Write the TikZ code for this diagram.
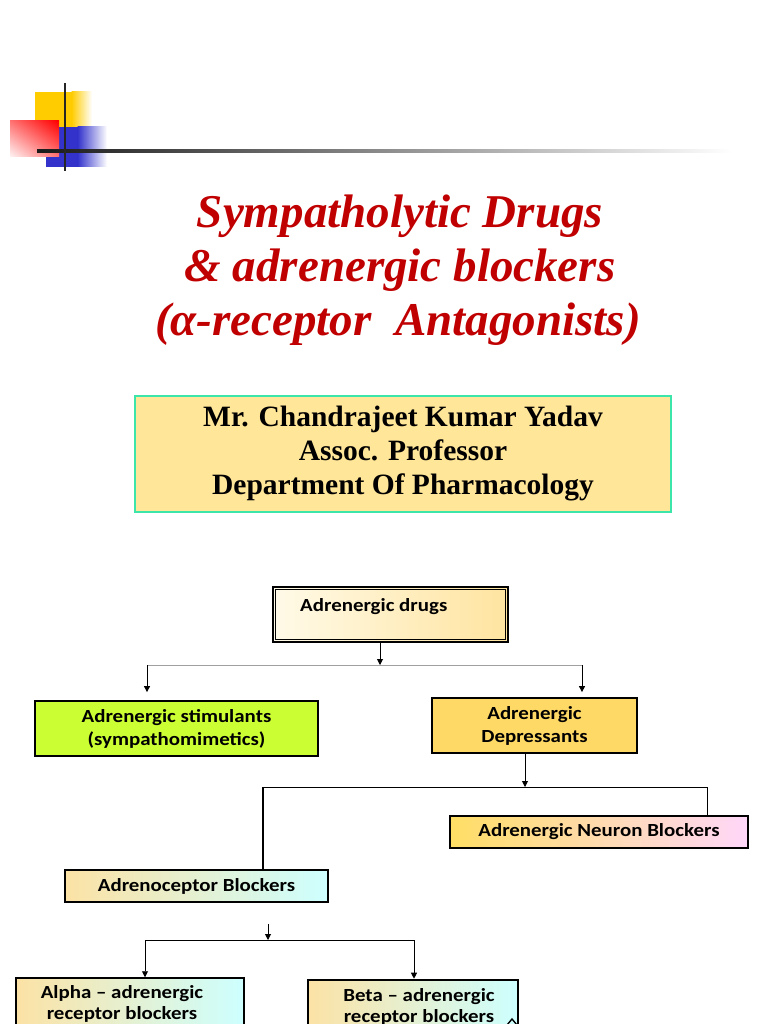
\documentclass[tikz,border=0pt]{standalone}
\usepackage{fontspec}
\setmainfont{Liberation Serif}
\newfontfamily\boxfont[FakeStretch=1.13]{Carlito}
\usetikzlibrary{arrows.meta,calc,shadings}
\definecolor{titlered}{RGB}{192,0,0}
\definecolor{authorfill}{RGB}{255,230,153}
\definecolor{authorborder}{RGB}{60,230,170}
\definecolor{stimgreen}{RGB}{204,255,51}
\definecolor{depyellow}{RGB}{255,217,102}
\definecolor{drugsL}{RGB}{255,250,232}
\definecolor{drugsR}{RGB}{255,228,160}
\definecolor{neuronL}{RGB}{255,222,100}
\definecolor{neuronM}{RGB}{250,215,185}
\definecolor{neuronR}{RGB}{255,215,250}
\definecolor{cyanL}{RGB}{252,226,165}
\definecolor{cyanM}{RGB}{225,245,215}
\definecolor{cyanR}{RGB}{205,255,255}
\definecolor{logoyellow}{RGB}{255,204,0}
\definecolor{logoblue}{RGB}{51,51,204}
\definecolor{logored}{RGB}{255,0,0}
\definecolor{logored2}{RGB}{255,245,245}
\definecolor{linegray}{RGB}{160,160,160}
\begin{document}
\begin{tikzpicture}[x=1pt,y=-1pt,
  titletext/.style={font=\bfseries\itshape\fontsize{47}{54}\selectfont, text=titlered, inner sep=0pt},
  authorbox/.style={draw=authorborder, line width=1.2pt, fill=authorfill, align=center,
    minimum width=536pt, minimum height=116pt, inner sep=0pt,
    font=\bfseries\fontsize{29.5}{34}\selectfont},
  fbox/.style={draw=black, line width=1.8pt, inner sep=0pt, align=center,
    font=\boxfont\bfseries\fontsize{18.5}{23}\selectfont},
  flabel/.style={inner sep=0pt, align=center, font=\boxfont\bfseries\fontsize{18.5}{21}\selectfont},
  conn/.style={draw=black, line width=0.9pt},
  arr/.style={conn, -{Triangle[length=6pt,width=6pt]}}
]
\useasboundingbox (0,0) rectangle (768,1024);
\clip (0,0) rectangle (768,1024);

% logo
\fill[logoyellow] (35,92) rectangle (72,140);
\shade[left color=logoyellow, right color=white] (71.5,92) rectangle (92,140);
\fill[logoblue] (46,127) rectangle (78,167);
\shade[left color=logoblue, right color=white] (77.5,127) rectangle (107,167);
\shade[upper right=logored, upper left=logored!55!white, lower right=logored!55!white, lower left=logored2] (10,121) rectangle (59,157);
\shade[left color=black!90, middle color=black!45, right color=white] (37,149.5) rectangle (732,152.5);
\draw[line width=2.2pt, black!85] (65,83) -- (65,171);

% title
\node[titletext, anchor=base] (t1) at (400,227) {Sympatholytic Drugs};
\node[titletext, anchor=base] (t2) at (400,281) {\& adrenergic blockers};
\node[titletext, anchor=base] (t3) at (398,335) {(α-receptor\ \ Antagonists)};

% author
\node[authorbox] (author) at (403,454) {Mr. Chandrajeet Kumar Yadav\\Assoc. Professor\\Department Of Pharmacology};

% flowchart boxes
\node[fbox, line width=2.6pt, left color=drugsL, right color=drugsR, minimum width=235pt, minimum height=55pt] (drugs) at (390.5,614.5) {};
\draw[line width=0.6pt] ($(drugs.north west)+(4,4)$) rectangle ($(drugs.south east)+(-4,-4)$);
\node[flabel, anchor=west] (drugslbl) at (300,607) {Adrenergic drugs};

\node[fbox, fill=stimgreen, minimum width=283pt, minimum height=55pt] (stim) at (176.5,728.5) {Adrenergic stimulants\\(sympathomimetics)};
\node[fbox, fill=depyellow, minimum width=205pt, minimum height=55pt] (dep) at (534.5,725.5) {Adrenergic\\Depressants};
\node[fbox, left color=neuronL, middle color=neuronM, right color=neuronR, minimum width=298pt, minimum height=32pt] (neuron) at (599,832) {Adrenergic Neuron Blockers};
\node[fbox, left color=cyanL, middle color=cyanM, right color=cyanR, minimum width=263pt, minimum height=32pt] (adreno) at (196.5,886) {Adrenoceptor Blockers};

\node[fbox, line width=1.5pt, left color=cyanL, right color=cyanR, minimum width=228pt, minimum height=52pt] (alpha) at (130,1004) {};
\node[flabel] (alphalbl) at (122,1004) {Alpha – adrenergic\\receptor blockers};
\node[fbox, line width=2.6pt, left color=cyanL, right color=cyanR, minimum width=210pt, minimum height=60pt] (beta) at (413,1010) {};
\node[flabel] (betalbl) at (419,1007) {Beta – adrenergic\\receptor blockers};
\draw[line width=1.4pt] (507,1025) -- (512,1019) -- (517,1025);

% connectors
\coordinate (j1) at (380,665);
\coordinate (jL) at (147,665);
\coordinate (jR) at (582,665);
\draw[arr] (drugs.south -| j1) -- (j1);
\draw[draw=linegray, line width=1pt] (jL) -- (jR);
\draw[arr, shorten >=8pt] (jL) -- (jL |- stim.north);
\draw[arr, shorten >=5pt] (jR) -- (jR |- dep.north);

\coordinate (j2) at (525,787);
\coordinate (kL) at (263,787);
\coordinate (kR) at (707,787);
\draw[arr] (dep.south -| j2) -- (j2);
\draw[conn] (kL) -- (kR);
\draw[conn, line width=1.5pt] (kL) -- (kL |- adreno.north);
\draw[conn] (kR) -- (kR |- neuron.north);

\coordinate (j3) at (268,940);
\coordinate (mL) at (145,940);
\coordinate (mR) at (414,940);
\draw[arr, shorten <=21pt] (adreno.south -| j3) -- (j3);
\draw[conn] (mL) -- (mR);
\draw[arr] (mL) -- (mL |- alpha.north);
\draw[arr] (mR) -- (mR |- beta.north);
\end{tikzpicture}
\end{document}
